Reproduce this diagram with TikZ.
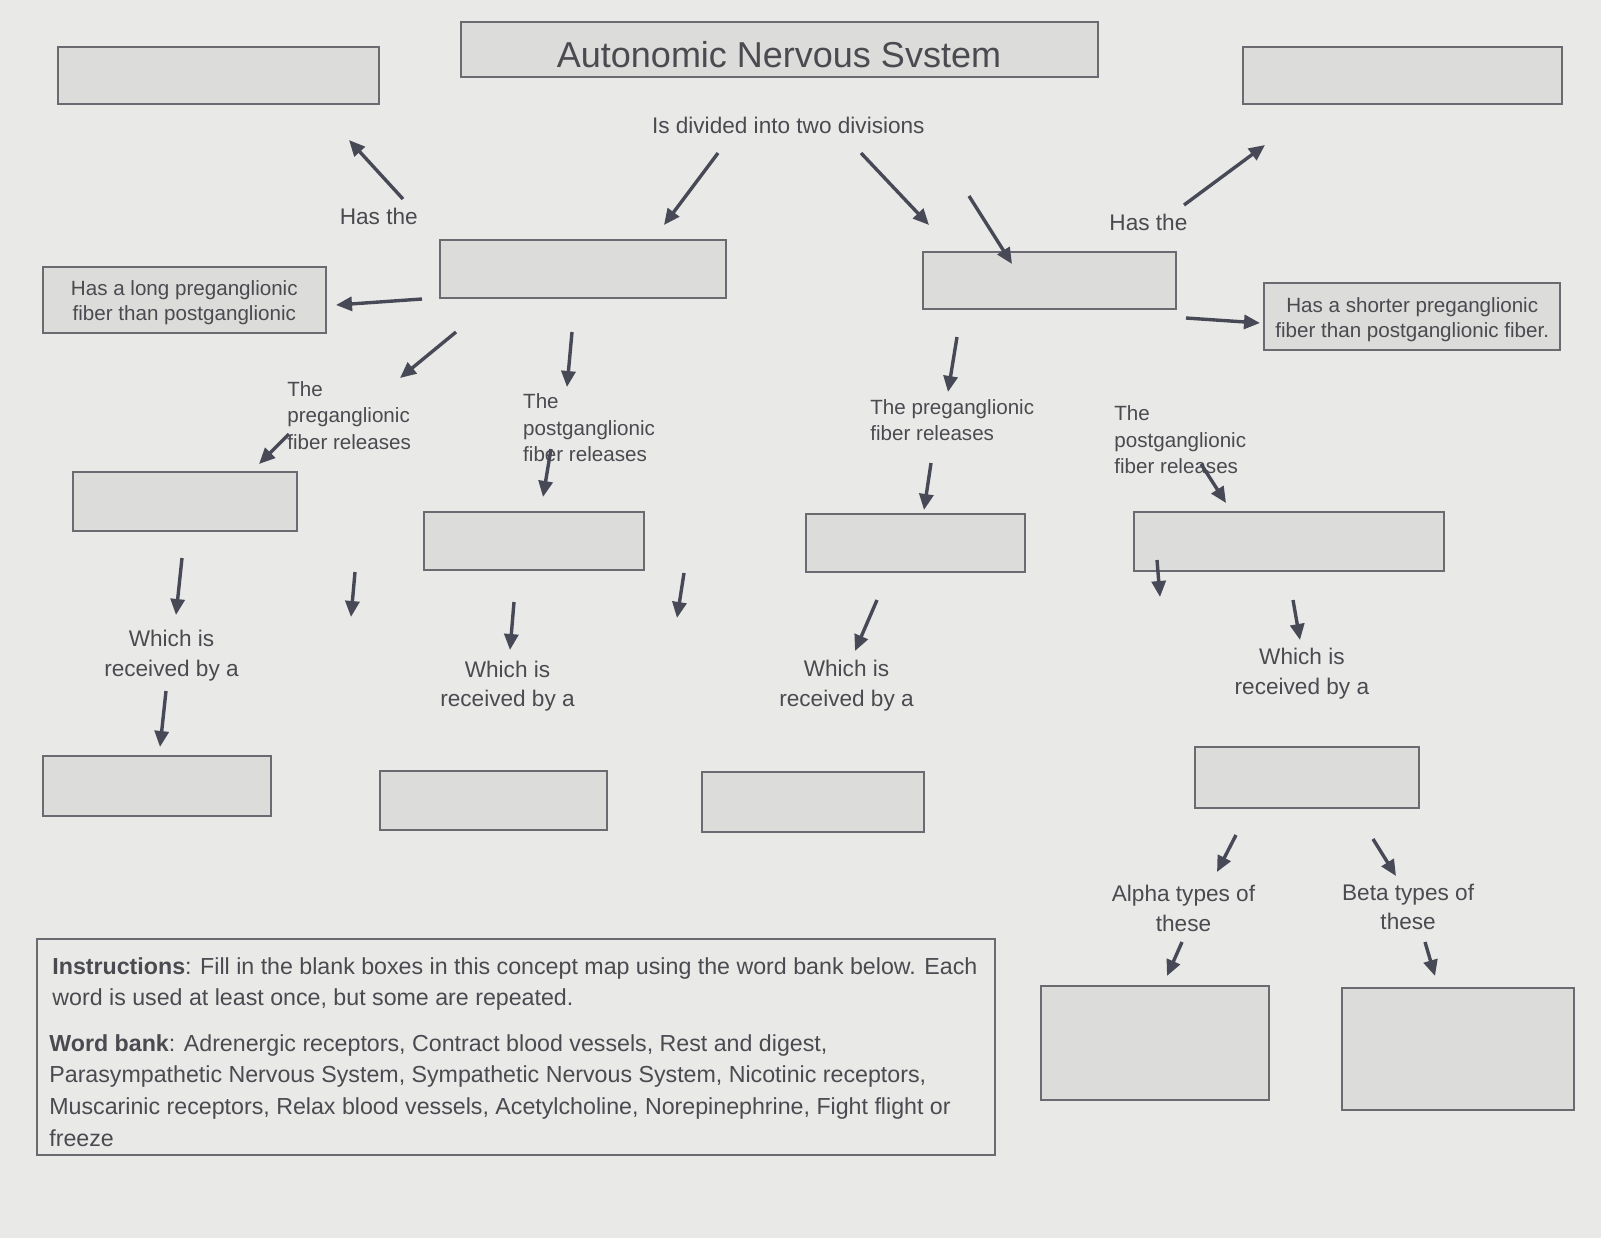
\documentclass[tikz,border=0pt]{standalone}
\usepackage{fontspec}
\setmainfont{Liberation Sans}
\usetikzlibrary{arrows.meta}

\definecolor{paper}{HTML}{E9E9E7}
\definecolor{boxfill}{HTML}{DCDCDA}
\definecolor{boxline}{HTML}{6A6A70}
\definecolor{ink}{HTML}{4A4A50}
\definecolor{arrowink}{HTML}{474956}

\tikzset{
  blank/.style={draw=boxline, fill=boxfill, line width=1pt, inner sep=0pt},
  note/.style={text=ink, inner sep=0pt, align=left, font=\fontsize{10.3}{13.3}\selectfont},
  boxtext/.style={text=ink, inner sep=0pt, align=center, font=\fontsize{10.3}{12.5}\selectfont},
  linkword/.style={text=ink, inner sep=0pt, align=center, font=\fontsize{11.3}{14.8}\selectfont},
  conn/.style={draw=arrowink, line width=1.7pt, -{Triangle[length=8pt,width=7pt]}},
}

\begin{document}
\begin{tikzpicture}[x=0.5pt,y=-0.5pt]
		\fill[paper] (0,0) rectangle (1601,1238);
		\useasboundingbox (0,0) rectangle (1601,1238);
		% top row
		\node[blank, minimum width=318.5pt, minimum height=27.5pt] (ans) at (779,49) {};
		\node[text=ink, inner sep=0pt, font=\fontsize{18}{20}\selectfont] (anstext) at (779,54.5) {Autonomic Nervous Svstem};
		\node[blank, minimum width=160.3pt, minimum height=28.6pt] (paraname) at (218.5,75.6) {};
		\node[blank, minimum width=159.8pt, minimum height=28.6pt] (sympname) at (1402.5,75.6) {};
		\node[linkword] (divided) at (788.3,125.6) {Is divided into two divisions};
		\node[linkword] (hasleft) at (378.8,216) {Has the};
		\node[linkword] (hasright) at (1148.4,222.1) {Has the};
		% the two divisions
		\node[blank, minimum width=143pt, minimum height=29.1pt] (para) at (583,269.1) {};
		\node[blank, minimum width=126.6pt, minimum height=28.6pt] (symp) at (1049.7,280.8) {};
		\node[blank, minimum width=141.4pt, minimum height=33.2pt] (longfiber) at (184.3,299.7) {};
		\node[boxtext] (longtext) at ([yshift=-1.5pt]longfiber.center) {Has a long preganglionic\\fiber than postganglionic};
		\node[blank, minimum width=148pt, minimum height=33.7pt] (shortfiber) at (1412.2,316.5) {};
		\node[boxtext, font=\fontsize{10.3}{12.3}\selectfont] (shorttext) at ([yshift=-1.5pt]shortfiber.center) {Has a shorter preganglionic\\fiber than postganglionic fiber.};
		\node[note, anchor=west] (preleft) at (286.9,415.6) {The\\preganglionic\\fiber releases};
		\node[note, anchor=west] (postleft) at (522.8,427.9) {The\\postganglionic\\fiber releases};
		\node[note, anchor=west, font=\fontsize{10.3}{12.8}\selectfont] (preright) at (870,420.2) {The preganglionic\\fiber releases};
		\node[note, anchor=west] (postright) at (1114,440) {The\\postganglionic\\fiber releases};
		% transmitters
		\node[blank, minimum width=112.3pt, minimum height=29.7pt] (paraach) at (184.8,501.4) {};
		\node[blank, minimum width=110.3pt, minimum height=29.1pt] (parapost) at (534,540.7) {};
		\node[blank, minimum width=109.8pt, minimum height=29.1pt] (sympach) at (915.4,542.7) {};
		\node[blank, minimum width=154.7pt, minimum height=29.6pt] (sympne) at (1289.1,541.2) {};
		\node[linkword] (recv1) at (171.5,655.5) {Which is\\received by a};
		\node[linkword] (recv2) at (507.5,686) {Which is\\received by a};
		\node[linkword] (recv3) at (846.5,685.5) {Which is\\received by a};
		\node[linkword] (recv4) at (1301.9,673.5) {Which is\\received by a};
		% receptors
		\node[blank, minimum width=113.9pt, minimum height=30.2pt] (nic1) at (156.7,785.7) {};
		\node[blank, minimum width=113.4pt, minimum height=29.7pt] (musc) at (493.2,800.6) {};
		\node[blank, minimum width=111.3pt, minimum height=30.1pt] (nic2) at (812.8,802.1) {};
		\node[blank, minimum width=112.3pt, minimum height=30.2pt] (adren) at (1307,777.6) {};
		\node[linkword] (alpha) at (1183.5,908.5) {Alpha types of\\these};
		\node[linkword] (beta) at (1408.1,907) {Beta types of\\these};
		\node[blank, minimum width=114.4pt, minimum height=56.7pt] (alphabox) at (1154.9,1043.1) {};
		\node[blank, minimum width=115.9pt, minimum height=60.8pt] (betabox) at (1457.6,1049.2) {};
		% instructions
		\node[draw=boxline, line width=1pt, minimum width=478.9pt, minimum height=107.8pt, inner sep=0pt] (instr) at (515.7,1047.2) {};
		\node[text=ink, anchor=north west, align=left, inner sep=0pt, font=\fontsize{11.6}{15.8}\selectfont] (instrtext) at (52,957) {\textbf{Instructions}: Fill in the blank boxes in this concept map using the word bank below. Each\\word is used at least once, but some are repeated.};
		\node[text=ink, anchor=north west, align=left, inner sep=0pt, font=\fontsize{11.6}{15.8}\selectfont] (bank) at (49,1034) {\textbf{Word bank}: Adrenergic receptors, Contract blood vessels, Rest and digest,\\Parasympathetic Nervous System, Sympathetic Nervous System, Nicotinic receptors,\\Muscarinic receptors, Relax blood vessels, Acetylcholine, Norepinephrine, Fight flight or\\freeze};
		% arrows
		\foreach \n/\sx/\sy/\ex/\ey in {div1/718/153/664/225, div2/861/153/929/225, div3/969/196/1012/264,
			has1/403/199/349/140, has2/1184/205/1265/145, long/422/299/336/305, short/1186/318/1260/323,
			pre1/456/332/400/378, post1/572/332/567/387, pre1b/289/434/259/464, post1b/551/449/543/497,
			pre2/957/337/948/392, pre2b/931/463/924/510, post2b/1201/464/1226/503,
			la/182/558/176/615, lb/355/572/351/617, ma/514/602/510/650, mb/684/573/677/618, mc/877/600/855/651,
			ra/1157/560/1160/597, rb/1293/600/1300/640, lc/166/691/160/747,
			al1/1236/835/1217/872, be1/1373/839/1396/876, al2/1182/942/1167/976, be2/1425/942/1435/976}{
			\coordinate (\n-s) at (\sx,\sy);
			\coordinate (\n-e) at (\ex,\ey);
			\draw[conn] (\n-s) -- (\n-e);
		}
\end{tikzpicture}
\end{document}
